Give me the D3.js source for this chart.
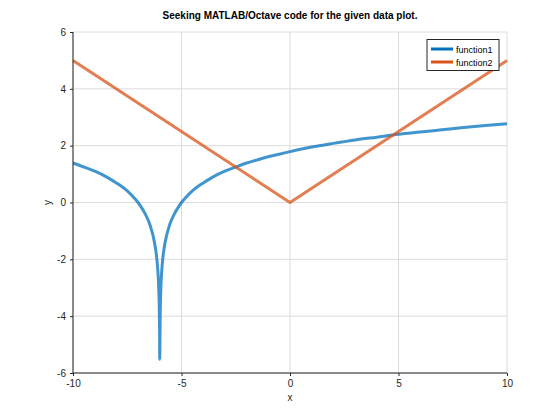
<!DOCTYPE html>
<html>
<head>
<meta charset="utf-8">
<script src="https://cdn.jsdelivr.net/npm/d3@7"></script>
<style>
body { margin: 0; background: #fff; }
text { font-family: "Liberation Sans", Arial, sans-serif; }
</style>
</head>
<body>
<div id="chart"></div>
<script>
// values

var f1_x = [-10, -9.5, -9, -8.5, -8, -7.8, -7.5, -7.2, -7, -6.9, -6.7, -6.5, -6.4, -6.3, -6.2, -6.1,
	-6.05, -6.02, -6.01, -6.004, -5.99, -5.98, -5.95, -5.9, -5.8, -5.7, -5.6, -5.5, -5.3, -5.1,
	-5, -4.8, -4.5, -4.2, -4, -3.5, -3, -2.5, -2, -1.5, -1, -0.5, 0, 1, 2, 3, 4, 5, 6, 7, 8, 9, 10];
var f1_y = [1.39, 1.25, 1.10, 0.92, 0.69, 0.59, 0.41, 0.18, 0, -0.11, -0.36, -0.69, -0.92, -1.20, -1.61, -2.30,
	-3.00, -3.91, -4.60, -5.52, -4.60, -3.91, -3.00, -2.30, -1.61, -1.20, -0.92, -0.69, -0.36, -0.11,
	0, 0.18, 0.41, 0.59, 0.69, 0.92, 1.10, 1.25, 1.39, 1.50, 1.61, 1.70, 1.79, 1.95, 2.08, 2.20, 2.30,
	2.40, 2.48, 2.56, 2.64, 2.71, 2.77];

var f2_x = [-10, 0, 10];
var f2_y = [5, 0, 5];

var x_ticks = [-10, -5, 0, 5, 10];
var y_ticks = [-6, -4, -2, 0, 2, 4, 6];

var series_names = ["function1", "function2"];
var series_colors = ["#0072BD", "#D95319"];

var width = 560,
	height = 420,
	plotLeft = 73,
	plotRight = 507,
	plotTop = 32,
	plotBottom = 373;

var svg = d3.select("#chart").append("svg")
	.attr("width", width)
	.attr("height", height);

var x = d3.scaleLinear().domain([-10, 10]).range([plotLeft, plotRight]);
var y = d3.scaleLinear().domain([-6, 6]).range([plotBottom, plotTop]);

// grid
var grid = svg.append("g");
grid.selectAll(".gx")
	.data(x_ticks)
	.enter()
	.append("line")
	.attr("x1", function(d) { return x(d); })
	.attr("x2", function(d) { return x(d); })
	.attr("y1", plotTop)
	.attr("y2", plotBottom)
	.style("stroke", "#dcdcdc")
	.style("stroke-width", "1px");
grid.selectAll(".gy")
	.data(y_ticks)
	.enter()
	.append("line")
	.attr("x1", plotLeft)
	.attr("x2", plotRight)
	.attr("y1", function(d) { return y(d); })
	.attr("y2", function(d) { return y(d); })
	.style("stroke", "#dcdcdc")
	.style("stroke-width", "1px");

// lines: the curve is smoothed, the V is straight
var curves = [d3.curveMonotoneX, d3.curveLinear];

var series = [d3.zip(f1_x, f1_y), d3.zip(f2_x, f2_y)];

svg.append("g")
	.selectAll("path")
	.data(series)
	.enter()
	.append("path")
	.attr("d", function(d, i) {
		return d3.line()
			.x(function(p) { return x(p[0]); })
			.y(function(p) { return y(p[1]); })
			.curve(curves[i])(d);
	})
	.style("fill", "none")
	.style("stroke", function(d, i) { return series_colors[i]; })
	.style("stroke-opacity", 0.75)
	.style("stroke-width", "3px")
	.style("stroke-linejoin", "round");

// axes
var fmt = function(d) { return String(d); };
var xAxis = d3.axisBottom(x).tickValues(x_ticks).tickFormat(fmt).tickSize(3).tickPadding(4);
var yAxis = d3.axisLeft(y).tickValues(y_ticks).tickFormat(fmt).tickSize(3).tickPadding(4);

var gx = svg.append("g")
	.attr("transform", "translate(0," + plotBottom + ")")
	.call(xAxis);
var gy = svg.append("g")
	.attr("transform", "translate(" + plotLeft + ",0)")
	.call(yAxis);

[gx, gy].forEach(function(g) {
	g.select(".domain").remove();
	g.selectAll(".tick line").style("stroke", "#262626");
	g.selectAll(".tick text")
		.style("font-size", "10px")
		.style("fill", "#262626")
		.style("font-family", "'Liberation Sans', Arial, sans-serif");
});
svg.append("line")
	.attr("x1", plotLeft).attr("x2", plotRight)
	.attr("y1", plotBottom).attr("y2", plotBottom)
	.style("stroke", "#262626");
svg.append("line")
	.attr("x1", plotLeft).attr("x2", plotLeft)
	.attr("y1", plotTop).attr("y2", plotBottom)
	.style("stroke", "#262626");

// labels
svg.append("text")
	.attr("x", (plotLeft + plotRight) / 2)
	.attr("y", 19)
	.text("Seeking MATLAB/Octave code for the given data plot.")
	.style("font-size", "10px")
	.style("font-weight", "bold")
	.style("text-anchor", "middle")
	.style("fill", "#000");

svg.append("text")
	.attr("x", (plotLeft + plotRight) / 2)
	.attr("y", 401)
	.text("x")
	.style("font-size", "10px")
	.style("text-anchor", "middle")
	.style("fill", "#262626");

svg.append("text")
	.attr("transform", "translate(51," + (plotTop + plotBottom) / 2 + ") rotate(-90)")
	.text("y")
	.style("font-size", "10px")
	.style("text-anchor", "middle")
	.style("fill", "#262626");

// legend
var legend = svg.append("g");
legend.append("rect")
	.attr("x", 427)
	.attr("y", 39.5)
	.attr("width", 72)
	.attr("height", 31)
	.style("fill", "#fff")
	.style("stroke", "#262626")
	.style("stroke-width", "1px");

var items = legend.selectAll(".item")
	.data(series_names)
	.enter()
	.append("g")
	.attr("transform", function(d, i) { return "translate(0," + (49 + i * 13) + ")"; });

items.append("line")
	.attr("x1", 431)
	.attr("x2", 453)
	.style("stroke", function(d, i) { return series_colors[i]; })
	.style("stroke-width", "3px");

items.append("text")
	.attr("x", 456)
	.attr("y", 3.5)
	.text(function(d) { return d; })
	.style("font-size", "9px")
	.style("fill", "#000");
</script>
</body>
</html>
